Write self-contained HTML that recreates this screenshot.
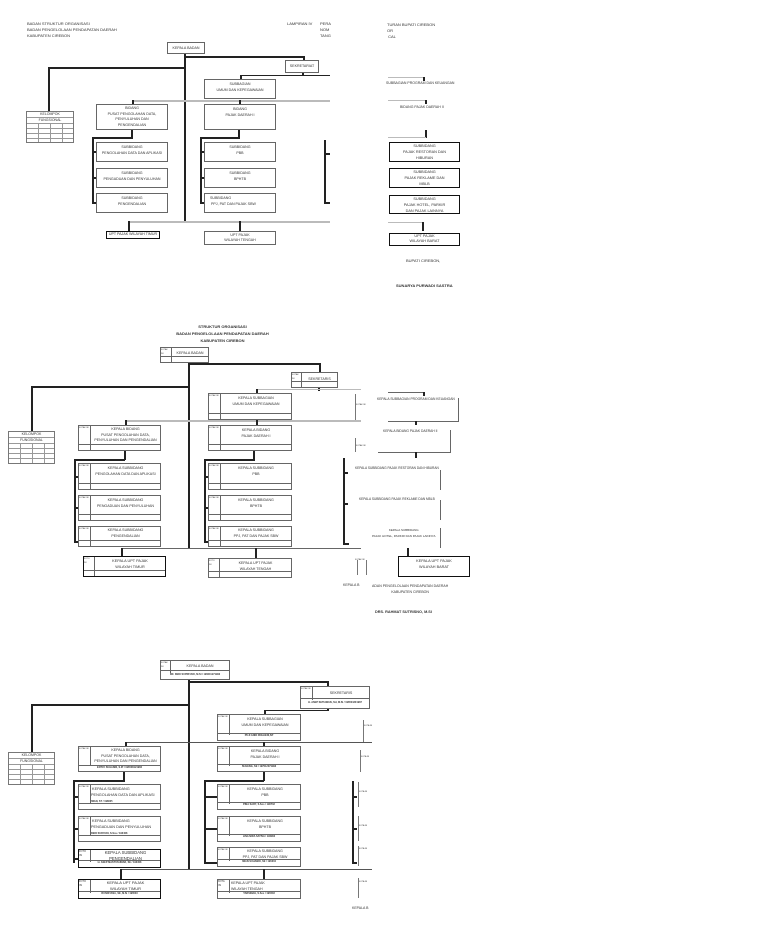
<!DOCTYPE html>
<html><head><meta charset="utf-8">
<style>
html,body{margin:0;padding:0;background:#fff;}
body{width:768px;height:942px;position:relative;overflow:hidden;font-family:"Liberation Sans",sans-serif;color:#333;}
.t{position:absolute;font-size:4px;line-height:6px;white-space:nowrap;}
.b{position:absolute;border:1px solid #666;box-sizing:border-box;font-size:3.6px;line-height:6px;text-align:center;background:#fff;}
.k{border:1.5px solid #111;}
.h{position:absolute;height:1.5px;background:#222;}
.v{position:absolute;width:1.5px;background:#222;}
.g{position:absolute;height:1.5px;background:#bbb;}
.lc{position:absolute;left:0;top:0;width:9px;border-right:1px solid #666;height:100%;box-sizing:border-box;font-size:2px;line-height:4px;text-align:left;}
.bt{position:absolute;left:0;right:0;bottom:0;height:5px;border-top:1px solid #666;font-size:2.5px;line-height:4px;font-weight:bold;}
.in{position:absolute;left:10px;right:0;top:2px;}
.grid{position:absolute;border:1px solid #777;box-sizing:border-box;}
.grid div{position:absolute;background:#999;}
.bo{font-weight:bold;}
</style></head><body>

<!-- ===== SECTION 1 ===== -->
<div class="t" style="left:27px;top:21px">BADAN STRUKTUR ORGANISASI<br>BADAN PENGELOLAAN PENDAPATAN DAERAH<br>KABUPATEN CIREBON</div>
<div class="t" style="left:287px;top:21px">LAMPIRAN IV</div>
<div class="t" style="left:320px;top:21px">PERA<br>NOM<br>TANG</div>
<div class="t" style="left:387px;top:22px">TURAN BUPATI CIREBON<br>OR<br>&nbsp;CAL</div>

<div class="b" style="left:167px;top:42px;width:38px;height:12px;line-height:10px">KEPALA BADAN</div>
<div class="v" style="left:184px;top:54px;height:168px"></div>
<div class="h" style="left:184px;top:56px;width:120px"></div>
<div class="v" style="left:303px;top:56px;height:4px"></div>
<div class="b" style="left:285px;top:60px;width:34px;height:13px;line-height:11px">SEKRETARIAT</div>
<div class="v" style="left:302px;top:73px;height:3px"></div>
<div class="h" style="left:240px;top:75px;width:90px;height:1px"></div>
<div class="h" style="left:49px;top:67px;width:136px"></div>
<div class="v" style="left:48px;top:67px;height:44px"></div>
<div class="grid" style="left:26px;top:111px;width:48px;height:32px">
<div style="left:0;right:0;top:5px;height:1px"></div><div style="left:0;right:0;top:11px;height:1px"></div><div style="left:0;right:0;top:16px;height:1px"></div><div style="left:0;right:0;top:21px;height:1px"></div><div style="left:0;right:0;top:26px;height:1px"></div>
<div style="top:11px;bottom:0;left:11px;width:1px"></div><div style="top:11px;bottom:0;left:23px;width:1px"></div><div style="top:11px;bottom:0;left:35px;width:1px"></div>
</div>
<div class="t" style="left:26px;top:111px;width:48px;text-align:center;font-size:3.5px;line-height:6px">KELOMPOK<br>FUNGSIONAL</div>

<div class="v" style="left:240px;top:75px;height:4px"></div>
<div class="b" style="left:204px;top:79px;width:72px;height:20px;padding-top:1px">SUBBAGIAN<br>UMUM DAN KEPEGAWAIAN</div>
<div class="g" style="left:133px;top:100px;width:197px"></div>
<div class="v" style="left:132px;top:100px;height:4px"></div>
<div class="v" style="left:239px;top:100px;height:4px"></div>
<div class="b" style="left:96px;top:104px;width:72px;height:26px;padding-top:1px;line-height:5.5px">BIDANG<br>PUSAT PENGOLAHAN DATA, PENYULUHAN DAN<br>PENGENDALIAN</div>
<div class="b" style="left:204px;top:104px;width:72px;height:26px;padding-top:1px">BIDANG<br>PAJAK DAERAH I</div>
<div class="v" style="left:131px;top:130px;height:8px"></div>
<div class="h" style="left:92px;top:137px;width:41px"></div>
<div class="v" style="left:92px;top:137px;height:67px"></div>
<div class="h" style="left:92px;top:151px;width:4px"></div><div class="h" style="left:92px;top:177px;width:4px"></div><div class="h" style="left:92px;top:202px;width:4px"></div>
<div class="b" style="left:96px;top:142px;width:72px;height:20px;padding-top:1px">SUBBIDANG<br>PENGOLAHAN DATA DAN APLIKASI</div>
<div class="b" style="left:96px;top:168px;width:72px;height:20px;padding-top:1px">SUBBIDANG<br>PENGADUAN DAN PENYULUHAN</div>
<div class="b" style="left:96px;top:193px;width:72px;height:20px;padding-top:1px">SUBBIDANG<br>PENGENDALIAN</div>
<div class="v" style="left:238px;top:130px;height:8px"></div>
<div class="h" style="left:200px;top:137px;width:40px"></div>
<div class="v" style="left:200px;top:137px;height:67px"></div>
<div class="h" style="left:200px;top:151px;width:4px"></div><div class="h" style="left:200px;top:177px;width:4px"></div><div class="h" style="left:200px;top:202px;width:4px"></div>
<div class="b" style="left:204px;top:142px;width:72px;height:20px;padding-top:1px">SUBBIDANG<br>PBB</div>
<div class="b" style="left:204px;top:168px;width:72px;height:20px;padding-top:1px">SUBBIDANG<br>BPHTB</div>
<div class="b" style="left:204px;top:193px;width:72px;height:20px;padding-top:1px;text-align:left;padding-left:5px">SUBBIDANG<br>&nbsp;PPJ, PAT DAN PAJAK SBW</div>
<div class="v" style="left:324px;top:140px;height:64px"></div>
<div class="h" style="left:324px;top:153px;width:6px"></div><div class="h" style="left:324px;top:202px;width:6px"></div>
<div class="g" style="left:128px;top:221px;width:202px"></div>
<div class="v" style="left:128px;top:221px;height:10px"></div>
<div class="v" style="left:239px;top:221px;height:10px"></div>
<div class="b k" style="left:106px;top:231px;width:54px;height:8px;line-height:5px">UPT PAJAK WILAYAH TIMUR</div>
<div class="b" style="left:204px;top:231px;width:72px;height:14px;padding-top:1px;line-height:5px">UPT PAJAK<br>WILAYAH TENGAH</div>

<div class="g" style="left:388px;top:77px;width:36px;height:1px"></div><div class="v" style="left:423px;top:77px;height:4px"></div>
<div class="t" style="left:386px;top:80px;font-size:3.5px">SUBBAGIAN PROGRAM DAN KEUANGAN</div>
<div class="g" style="left:388px;top:100px;width:38px;height:1px"></div><div class="v" style="left:425px;top:100px;height:4px"></div>
<div class="t" style="left:400px;top:104px;font-size:3.5px">BIDANG PAJAK DAERAH II</div>
<div class="v" style="left:425px;top:130px;height:8px"></div><div class="g" style="left:388px;top:137px;width:38px;height:1px"></div>
<div class="b k" style="left:389px;top:142px;width:71px;height:20px;line-height:6px;font-size:3.8px">SUBBIDANG<br>PAJAK RESTORAN DAN<br>HIBURAN</div>
<div class="b k" style="left:389px;top:168px;width:71px;height:20px;line-height:6px;font-size:3.8px">SUBBIDANG<br>PAJAK REKLAME DAN<br>MBLB</div>
<div class="b k" style="left:389px;top:195px;width:71px;height:19px;line-height:6px;font-size:3.8px">SUBBIDANG<br>PAJAK HOTEL, PARKIR<br>DAN PAJAK LAINNYA</div>
<div class="g" style="left:388px;top:222px;width:35px;height:1px"></div><div class="v" style="left:422px;top:222px;height:9px"></div>
<div class="b k" style="left:389px;top:233px;width:71px;height:13px;line-height:5px;font-size:3.8px">UPT PAJAK<br>WILAYAH BARAT</div>
<div class="t" style="left:406px;top:258px">BUPATI CIREBON,</div>
<div class="t bo" style="left:396px;top:283px">SUNARYA PURWADI SASTRA</div>

<!-- ===== SECTION 2 ===== -->
<div class="t bo" style="left:160px;top:323px;width:125px;text-align:center;line-height:7px">STRUKTUR ORGANISASI<br>BADAN PENGELOLAAN PENDAPATAN DAERAH<br>KABUPATEN CIREBON</div>
<div class="b" style="left:160px;top:347px;width:49px;height:16px"><div class="lc" style="width:11px">KOTAK<br>ISI</div><div class="in" style="left:11px;top:2px">KEPALA BADAN</div><div class="bt" style="height:5px"></div></div>
<div class="v" style="left:188px;top:363px;height:186px"></div>
<div class="h" style="left:188px;top:363px;width:132px"></div>
<div class="v" style="left:319px;top:363px;height:9px"></div>
<div class="b" style="left:291px;top:372px;width:47px;height:16px"><div class="lc" style="width:10px">KOTAK<br>ISI</div><div class="in" style="top:3px">SEKRETARIS</div><div class="bt"></div></div>
<div class="v" style="left:318px;top:388px;height:3px"></div>
<div class="g" style="left:257px;top:389px;width:104px;height:1px"></div>
<div class="h" style="left:31px;top:386px;width:158px"></div>
<div class="v" style="left:31px;top:386px;height:45px"></div>
<div class="grid" style="left:8px;top:431px;width:47px;height:33px">
<div style="left:0;right:0;top:5px;height:1px"></div><div style="left:0;right:0;top:11px;height:1px"></div><div style="left:0;right:0;top:16px;height:1px"></div><div style="left:0;right:0;top:21px;height:1px"></div><div style="left:0;right:0;top:26px;height:1px"></div>
<div style="top:11px;bottom:0;left:11px;width:1px"></div><div style="top:11px;bottom:0;left:23px;width:1px"></div><div style="top:11px;bottom:0;left:35px;width:1px"></div>
</div>
<div class="t" style="left:8px;top:431px;width:47px;text-align:center;font-size:3.5px;line-height:6px">KELOMPOK<br>FUNGSIONAL</div>

<div class="v" style="left:256px;top:389px;height:4px"></div>
<div class="b" style="left:208px;top:393px;width:84px;height:27px"><div class="lc" style="width:12px">KOTAK ISI</div><div class="in" style="left:12px;top:1px">KEPALA SUBBAGIAN<br>UMUM DAN KEPEGAWAIAN</div><div class="bt"></div></div>
<div class="g" style="left:125px;top:420px;width:236px"></div>
<div class="v" style="left:125px;top:420px;height:5px"></div>
<div class="v" style="left:256px;top:420px;height:5px"></div>
<div class="b" style="left:78px;top:425px;width:83px;height:26px"><div class="lc" style="width:12px">KOTAK ISI</div><div class="in" style="left:12px;top:1px;line-height:5.5px">KEPALA BIDANG<br>PUSAT PENGOLAHAN DATA,<br>PENYULUHAN DAN PENGENDALIAN</div><div class="bt"></div></div>
<div class="b" style="left:208px;top:425px;width:84px;height:26px"><div class="lc" style="width:12px">KOTAK ISI</div><div class="in" style="left:12px;top:1px">KEPALA BIDANG<br>PAJAK DAERAH I</div><div class="bt"></div></div>
<div class="v" style="left:124px;top:451px;height:9px"></div>
<div class="h" style="left:74px;top:459px;width:51px"></div>
<div class="v" style="left:74px;top:459px;height:84px"></div>
<div class="h" style="left:74px;top:476px;width:4px"></div><div class="h" style="left:74px;top:507px;width:4px"></div><div class="h" style="left:74px;top:541px;width:4px"></div>
<div class="b" style="left:78px;top:463px;width:83px;height:27px"><div class="lc" style="width:12px">KOTAK ISI</div><div class="in" style="left:12px;top:1px">KEPALA SUBBIDANG<br>PENGOLAHAN DATA DAN APLIKASI</div><div class="bt"></div></div>
<div class="b" style="left:78px;top:495px;width:83px;height:26px"><div class="lc" style="width:12px">KOTAK ISI</div><div class="in" style="left:12px;top:1px">KEPALA SUBBIDANG<br>PENGADUAN DAN PENYULUHAN</div><div class="bt"></div></div>
<div class="b" style="left:78px;top:526px;width:83px;height:21px"><div class="lc" style="width:12px">KOTAK ISI</div><div class="in" style="left:12px;top:0px">KEPALA SUBBIDANG<br>PENGENDALIAN</div><div class="bt"></div></div>
<div class="v" style="left:253px;top:451px;height:9px"></div>
<div class="h" style="left:204px;top:459px;width:51px"></div>
<div class="v" style="left:204px;top:459px;height:84px"></div>
<div class="h" style="left:204px;top:476px;width:4px"></div><div class="h" style="left:204px;top:507px;width:4px"></div><div class="h" style="left:204px;top:541px;width:4px"></div>
<div class="b" style="left:208px;top:463px;width:84px;height:27px"><div class="lc" style="width:12px">KOTAK ISI</div><div class="in" style="left:12px;top:1px">KEPALA SUBBIDANG<br>PBB</div><div class="bt"></div></div>
<div class="b" style="left:208px;top:495px;width:84px;height:26px"><div class="lc" style="width:12px">KOTAK ISI</div><div class="in" style="left:12px;top:1px">KEPALA SUBBIDANG<br>BPHTB</div><div class="bt"></div></div>
<div class="b" style="left:208px;top:526px;width:84px;height:21px"><div class="lc" style="width:12px">KOTAK ISI</div><div class="in" style="left:12px;top:0px">KEPALA SUBBIDANG<br>PPJ, PAT DAN PAJAK SBW</div><div class="bt"></div></div>
<div class="g" style="left:121px;top:548px;width:240px;background:#666;height:1px"></div>
<div class="v" style="left:121px;top:548px;height:8px"></div>
<div class="v" style="left:255px;top:548px;height:10px"></div>
<div class="b k" style="left:83px;top:556px;width:83px;height:21px"><div class="lc" style="width:11px">FOTO<br>ISI</div><div class="in" style="left:11px;top:1px;font-size:3.8px">KEPALA UPT PAJAK<br>WILAYAH TIMUR</div><div class="bt"></div></div>
<div class="b" style="left:208px;top:558px;width:84px;height:20px"><div class="lc" style="width:11px">FOTO<br>ISI</div><div class="in" style="left:11px;top:1px">KEPALA UPT PAJAK<br>WILAYAH TENGAH</div><div class="bt"></div></div>

<!-- right column section 2 -->
<div class="v" style="left:355px;top:394px;height:26px;width:1px;background:#777"></div>
<div class="t" style="left:356px;top:402px;font-size:2px">KOTAK ISI</div>
<div class="g" style="left:388px;top:392px;width:36px;height:1px;background:#666"></div><div class="v" style="left:423px;top:392px;height:4px"></div>
<div class="t" style="left:377px;top:396px;font-size:3.3px">KEPALA SUBBAGIAN PROGRAM DAN KEUANGAN</div>
<div class="v" style="left:458px;top:398px;height:24px;width:1px;background:#666"></div>
<div class="g" style="left:388px;top:421px;width:71px;height:1px;background:#666"></div><div class="v" style="left:415px;top:421px;height:4px"></div>
<div class="t" style="left:383px;top:428px;font-size:3.3px">KEPALA BIDANG PAJAK DAERAH II</div>
<div class="v" style="left:355px;top:438px;height:14px;width:1px;background:#777"></div>
<div class="t" style="left:356px;top:443px;font-size:2px">KOTAK ISI</div>
<div class="v" style="left:450px;top:430px;height:23px;width:1px;background:#666"></div>
<div class="g" style="left:378px;top:452px;width:73px;height:1px;background:#666"></div><div class="v" style="left:415px;top:452px;height:6px"></div>
<div class="v" style="left:343px;top:458px;height:86px"></div>
<div class="h" style="left:343px;top:472px;width:5px"></div><div class="h" style="left:343px;top:503px;width:5px"></div><div class="h" style="left:343px;top:543px;width:6px"></div>
<div class="t" style="left:355px;top:465px;font-size:3.2px">KEPALA SUBBIDANG PAJAK RESTORAN DAN HIBURAN</div>
<div class="t" style="left:359px;top:496px;font-size:3.2px">KEPALA SUBBIDANG PAJAK REKLAME DAN MBLB</div>
<div class="t" style="left:372px;top:527px;font-size:3px;text-align:center">KEPALA SUBBIDANG<br>PAJAK HOTEL, PARKIR DAN PAJAK LAINNYA</div>
<div class="v" style="left:440px;top:470px;height:20px;width:1px;background:#666"></div>
<div class="v" style="left:440px;top:500px;height:20px;width:1px;background:#666"></div>
<div class="v" style="left:440px;top:528px;height:20px;width:1px;background:#666"></div>
<div class="v" style="left:407px;top:548px;height:8px"></div>
<div class="b k" style="left:398px;top:556px;width:72px;height:21px;line-height:6px;font-size:3.8px;padding-top:1px">KEPALA UPT PAJAK<br>WILAYAH BARAT</div>
<div class="t" style="left:355px;top:557px;font-size:2px">KOTAK ISI</div>
<div class="v" style="left:357px;top:560px;height:15px;width:1px;background:#777"></div>
<div class="v" style="left:366px;top:560px;height:15px;width:1px;background:#777"></div>
<div class="t" style="left:343px;top:582px;font-size:3.5px">KEPALA B</div>
<div class="t" style="left:372px;top:583px;font-size:3.5px;text-align:center">ADAN PENGELOLAAN PENDAPATAN DAERAH<br>KABUPATEN CIREBON</div>
<div class="t bo" style="left:375px;top:609px;font-size:3.8px">DRS. RAHMAT SUTRISNO, M.SI</div>

<!-- ===== SECTION 3 ===== -->
<div class="b" style="left:160px;top:660px;width:70px;height:20px"><div class="lc" style="width:10px;height:12px">KOTAK<br>ISI</div><div class="in" style="top:2px">KEPALA BADAN</div><div class="bt" style="height:8px;line-height:7px">DR. DEDI SUPRIYADI, M.SI / 196601271990</div></div>
<div class="v" style="left:188px;top:680px;height:190px"></div>
<div class="h" style="left:188px;top:681px;width:140px"></div>
<div class="v" style="left:327px;top:681px;height:5px"></div>
<div class="b" style="left:300px;top:686px;width:70px;height:23px"><div class="lc" style="width:12px;height:13px">KOTAK ISI</div><div class="in" style="left:12px;top:3px">SEKRETARIS</div><div class="bt" style="height:9px;line-height:8px">H. ASEP SETIAWAN, SH, M.SI / 196504301987</div></div>
<div class="v" style="left:327px;top:709px;height:2px"></div>
<div class="h" style="left:265px;top:710px;width:64px;height:1px"></div>
<div class="h" style="left:31px;top:704px;width:158px"></div>
<div class="v" style="left:31px;top:704px;height:48px"></div>
<div class="grid" style="left:8px;top:752px;width:47px;height:33px">
<div style="left:0;right:0;top:5px;height:1px"></div><div style="left:0;right:0;top:11px;height:1px"></div><div style="left:0;right:0;top:16px;height:1px"></div><div style="left:0;right:0;top:21px;height:1px"></div><div style="left:0;right:0;top:26px;height:1px"></div>
<div style="top:11px;bottom:0;left:11px;width:1px"></div><div style="top:11px;bottom:0;left:23px;width:1px"></div><div style="top:11px;bottom:0;left:35px;width:1px"></div>
</div>
<div class="t" style="left:8px;top:752px;width:47px;text-align:center;font-size:3.5px;line-height:6px">KELOMPOK<br>FUNGSIONAL</div>

<div class="v" style="left:264px;top:710px;height:4px"></div>
<div class="b" style="left:217px;top:714px;width:84px;height:27px"><div class="lc" style="width:12px;height:20px">KOTAK ISI</div><div class="in" style="left:12px;top:1px">KEPALA SUBBAGIAN<br>UMUM DAN KEPEGAWAIAN</div><div class="bt" style="height:6px">PUJI ANNI ROHAEDI,SP</div></div>
<div class="h" style="left:125px;top:742px;width:247px;height:1px;background:#555"></div>
<div class="v" style="left:125px;top:742px;height:4px"></div>
<div class="v" style="left:263px;top:742px;height:4px"></div>
<div class="b" style="left:78px;top:746px;width:83px;height:26px"><div class="lc" style="width:12px;height:19px">KOTAK ISI</div><div class="in" style="left:12px;top:1px;line-height:5.5px">KEPALA BIDANG<br>PUSAT PENGOLAHAN DATA,<br>PENYULUHAN DAN PENGENDALIAN</div><div class="bt" style="height:5px">ENTAY SUHANDI, S.IP / 196508121986</div></div>
<div class="b" style="left:217px;top:746px;width:84px;height:26px"><div class="lc" style="width:12px;height:19px">KOTAK ISI</div><div class="in" style="left:12px;top:1px">KEPALA BIDANG<br>PAJAK DAERAH I</div><div class="bt" style="height:6px">SUGENG, SE / 197012071993</div></div>
<div class="v" style="left:123px;top:772px;height:9px"></div>
<div class="h" style="left:73px;top:780px;width:52px"></div>
<div class="v" style="left:73px;top:780px;height:83px"></div>
<div class="h" style="left:73px;top:796px;width:5px"></div><div class="h" style="left:73px;top:828px;width:5px"></div><div class="h" style="left:73px;top:858px;width:5px"></div>
<div class="b" style="left:78px;top:784px;width:83px;height:26px"><div class="lc" style="width:12px;height:19px">KOTAK ISI</div><div class="in" style="left:12px;top:1px;text-align:left;font-size:3.8px">&nbsp;KEPALA SUBBIDANG<br>PENGOLAHAN DATA DAN APLIKASI<br><b style="font-size:2.5px">IWAN, ST / 198005</b></div><div class="bt" style="height:5px"></div></div>
<div class="b" style="left:78px;top:816px;width:83px;height:26px"><div class="lc" style="width:12px;height:19px">KOTAK ISI</div><div class="in" style="left:12px;top:1px;text-align:left;font-size:3.8px">&nbsp;KEPALA SUBBIDANG<br>PENGADUAN DAN PENYULUHAN<br><b style="font-size:2.5px">DEDI SURYADI, S.Sos / 196408</b></div><div class="bt" style="height:5px"></div></div>
<div class="b k" style="left:78px;top:849px;width:83px;height:19px"><div class="lc" style="width:12px;height:12px;font-size:2.5px">FOTO<br>ISI</div><div class="in" style="left:12px;top:0px;font-size:4.2px;line-height:6px">KEPALA SUBBIDANG<br>PENGENDALIAN</div><div class="bt" style="height:6px">H. ASEP MASTUSUMAR, SE / 196308</div></div>
<div class="v" style="left:263px;top:772px;height:9px"></div>
<div class="h" style="left:204px;top:780px;width:60px"></div>
<div class="v" style="left:204px;top:780px;height:83px"></div>
<div class="h" style="left:204px;top:796px;width:13px"></div><div class="h" style="left:204px;top:828px;width:13px"></div><div class="h" style="left:204px;top:862px;width:13px"></div>
<div class="b" style="left:217px;top:784px;width:84px;height:26px"><div class="lc" style="width:12px;height:19px">KOTAK ISI</div><div class="in" style="left:12px;top:1px">KEPALA SUBBIDANG<br>PBB</div><div class="bt" style="height:6px">PINA SARY, S.Sos / 196702</div></div>
<div class="b" style="left:217px;top:816px;width:84px;height:26px"><div class="lc" style="width:12px;height:19px">KOTAK ISI</div><div class="in" style="left:12px;top:1px">KEPALA SUBBIDANG<br>BPHTB</div><div class="bt" style="height:6px">LINA NIRA SATIVA / 196902</div></div>
<div class="b" style="left:217px;top:847px;width:84px;height:20px"><div class="lc" style="width:12px;height:13px">KOTAK ISI</div><div class="in" style="left:12px;top:0px">KEPALA SUBBIDANG<br>PPJ, PAT DAN PAJAK SBW</div><div class="bt" style="height:6px">IWAN SUHANDI, SE / 196304</div></div>
<div class="h" style="left:120px;top:869px;width:252px;height:1px;background:#555"></div>
<div class="v" style="left:120px;top:869px;height:10px"></div>
<div class="v" style="left:263px;top:869px;height:10px"></div>
<div class="b k" style="left:78px;top:879px;width:83px;height:20px"><div class="lc" style="width:12px;height:13px;font-size:2.5px">FOTO<br>ISI</div><div class="in" style="left:12px;top:0px;font-size:4px">KEPALA UPT PAJAK<br>WILAYAH TIMUR</div><div class="bt" style="height:6px">RUSDIYANA, SE, M.Si / 196503</div></div>
<div class="b" style="left:217px;top:879px;width:84px;height:20px"><div class="lc" style="width:12px;height:13px;font-size:2.5px">KOTA<br>ISI</div><div class="in" style="left:12px;top:0px;text-align:left">&nbsp;KEPALA UPT PAJAK<br>&nbsp;WILAYAH TENGAH</div><div class="bt" style="height:6px">TARSINAH, S.Sos / 196503</div></div>

<!-- right stubs section 3 -->
<div class="v" style="left:363px;top:720px;height:22px;width:1px;background:#777"></div><div class="t" style="left:364px;top:723px;font-size:2px">KOTA ISI</div>
<div class="v" style="left:360px;top:750px;height:22px;width:1px;background:#777"></div><div class="t" style="left:361px;top:754px;font-size:2px">KOTA ISI</div>
<div class="v" style="left:352px;top:781px;height:82px"></div>
<div class="h" style="left:352px;top:796px;width:5px"></div><div class="h" style="left:352px;top:828px;width:5px"></div><div class="h" style="left:352px;top:862px;width:5px"></div>
<div class="v" style="left:358px;top:782px;height:25px;width:1px;background:#777"></div><div class="t" style="left:359px;top:789px;font-size:2px">KOTA ISI</div>
<div class="v" style="left:358px;top:816px;height:25px;width:1px;background:#777"></div><div class="t" style="left:359px;top:823px;font-size:2px">KOTA ISI</div>
<div class="v" style="left:358px;top:846px;height:20px;width:1px;background:#777"></div><div class="t" style="left:359px;top:846px;font-size:2px">KOTA ISI</div>
<div class="v" style="left:358px;top:878px;height:20px;width:1px;background:#777"></div><div class="t" style="left:359px;top:879px;font-size:2px">KOTA ISI</div>
<div class="t" style="left:352px;top:905px;font-size:3.5px">KEPALA B</div>

</body></html>
